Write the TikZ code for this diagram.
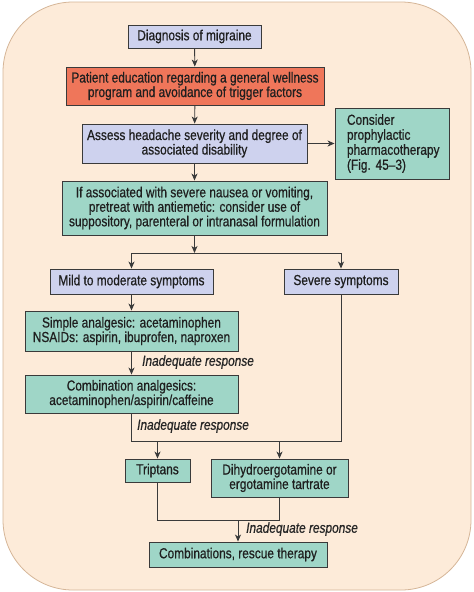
\documentclass[tikz,border=0pt]{standalone}
\usepackage{fontspec}
\setmainfont{Liberation Sans}[FakeStretch=0.82, FakeBold=0.6]
\usetikzlibrary{arrows.meta}
\definecolor{bgfill}{HTML}{FDEBD9}
\definecolor{bgline}{HTML}{D5B597}
\definecolor{lav}{HTML}{CED2EE}
\definecolor{redb}{HTML}{EF765A}
\definecolor{grn}{HTML}{9FD6C7}
\definecolor{edge}{HTML}{3A3A3A}
\tikzset{
  box/.style={draw=edge, line width=0.9pt, inner sep=0pt, align=center, font=\fontsize{14.5}{14.5}\selectfont, text=black!88},
  lavbox/.style={box, fill=lav},
  redbox/.style={box, fill=redb},
  grnbox/.style={box, fill=grn},
  conn/.style={draw=edge, line width=0.9pt},
  arr/.style={conn, -{Stealth[length=7pt,width=6pt,inset=2pt]}},
  lbl/.style={font=\fontsize{14.5}{14.5}\selectfont\itshape, anchor=west, inner sep=0pt, text=black!85},
}
\begin{document}
\begin{tikzpicture}[x=1pt,y=-1pt]
\useasboundingbox (0,0) rectangle (474,592);
\draw[draw=bgline, line width=0.8pt, fill=bgfill, rounded corners=70pt] (3,2) rectangle (471,590);

\node[lavbox, minimum width=133, minimum height=23] (diag) at (194.5,36.5) {Diagnosis of migraine};
\node[redbox, minimum width=258, minimum height=38] (edu) at (195,86) {Patient education regarding a general wellness\\program and avoidance of trigger factors};
\node[lavbox, minimum width=225, minimum height=39] (assess) at (194.5,143.5) {Assess headache severity and degree of\\associated disability};
\node[grnbox, minimum width=114, minimum height=71, text width=90, align=left, inner xsep=12pt, font=\fontsize{14.5}{15}\selectfont] (cons) at (392,143.5) {Consider\\prophylactic\\pharmacotherapy\\(Fig.\ 45--3)};
\node[grnbox, minimum width=265, minimum height=54] (naus) at (194.5,208) {If associated with severe nausea or vomiting,\\pretreat with antiemetic: consider use of\\suppository, parenteral or intranasal formulation};
\node[lavbox, minimum width=163, minimum height=25] (mild) at (131.5,281.5) {Mild to moderate symptoms};
\node[lavbox, minimum width=114, minimum height=25] (sev) at (341,281.5) {Severe symptoms};
\node[grnbox, minimum width=213, minimum height=40] (simp) at (131.5,331) {Simple analgesic: acetaminophen\\NSAIDs: aspirin, ibuprofen, naproxen};
\node[grnbox, minimum width=213, minimum height=38] (comb) at (131.5,394) {Combination analgesics:\\acetaminophen/aspirin/caffeine};
\node[grnbox, minimum width=65, minimum height=23] (trip) at (157.5,470.5) {Triptans};
\node[grnbox, minimum width=137, minimum height=38] (dhe) at (279.5,478) {Dihydroergotamine or\\ergotamine tartrate};
\node[grnbox, minimum width=178, minimum height=25] (resc) at (238,554.5) {Combinations, rescue therapy};

\draw[arr] (diag) -- (edu);
\draw[arr] (edu) -- (assess);
\draw[arr] (assess) -- (cons);
\draw[arr] (assess) -- (naus);
\coordinate (j) at (194.5,253);
\draw[arr] (naus) -- (j);
\draw[arr] (j) -| (mild.north);
\draw[arr] (j) -| (sev.north);
\draw[arr] (mild) -- (simp);
\draw[arr] (simp) -- (comb);
\node[lbl] (l1) at (142,362) {Inadequate response};
\coordinate (h1) at (131.5,441);
\coordinate (h2) at (341,441);
\draw[conn] (comb.south) -- (h1) -- (h2) -- (sev.south);
\node[lbl] (l2) at (137,426) {Inadequate response};
\draw[arr] (trip.north |- h1) -- (trip.north);
\draw[arr] (dhe.north |- h1) -- (dhe.north);
\coordinate (b1) at (157.5,520);
\coordinate (b2) at (279.5,520);
\draw[conn] (trip.south) -- (b1) -- (b2) -- (dhe.south);
\draw[arr] (resc.north |- b1) -- (resc.north);
\node[lbl] (l3) at (246,529) {Inadequate response};
\end{tikzpicture}
\end{document}
